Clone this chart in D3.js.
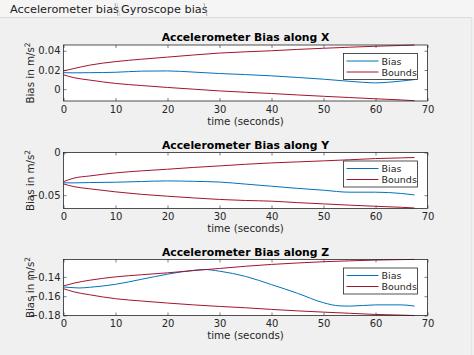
<!DOCTYPE html>
<html><head><meta charset="utf-8">
<script src="https://cdn.jsdelivr.net/npm/d3@7"></script>
<style>
html,body{margin:0;padding:0;background:#f0f0f0;}
svg{display:block;font-family:"DejaVu Sans",sans-serif;}
</style></head>
<body><svg id="c" width="474" height="355"></svg>
<script>
const tabs = ["Accelerometer bias", "Gyroscope bias"];
const titles = ["Accelerometer Bias along X", "Accelerometer Bias along Y", "Accelerometer Bias along Z"];
const xTicks = [0, 10, 20, 30, 40, 50, 60, 70];
const time = [0, 2, 5, 10, 15, 20, 25, 30, 35, 40, 45, 50, 55, 60, 65, 67.5];
const timeZ = [0, 2, 3, 5, 10, 15, 20, 25, 27, 30, 35, 40, 45, 50, 53, 55, 60, 65, 67.5];

const biasX  = [0.0172,0.0170,0.0172,0.0176,0.0188,0.0190,0.0178,0.0163,0.0152,0.0139,0.0122,0.0104,0.0082,0.0066,0.0085,0.0100];
const upperX = [0.019,0.0215,0.025,0.0287,0.0312,0.0334,0.0356,0.0376,0.0389,0.0400,0.0414,0.0426,0.0437,0.0447,0.0455,0.0460];
const lowerX = [0.015,0.012,0.0095,0.006,0.0038,0.0018,0.0,-0.0018,-0.0032,-0.0045,-0.006,-0.0074,-0.0087,-0.010,-0.0112,-0.012];

const biasY  = [-0.0355,-0.0356,-0.0352,-0.0348,-0.034,-0.0333,-0.0338,-0.0346,-0.037,-0.0395,-0.042,-0.0442,-0.0465,-0.0465,-0.048,-0.0497];
const upperY = [-0.0342,-0.030,-0.0275,-0.0239,-0.0215,-0.0196,-0.0175,-0.0157,-0.0138,-0.0122,-0.011,-0.0098,-0.0085,-0.0071,-0.0063,-0.0059];
const lowerY = [-0.0368,-0.040,-0.0425,-0.0461,-0.049,-0.0512,-0.0532,-0.055,-0.0562,-0.057,-0.0587,-0.0602,-0.0617,-0.063,-0.0642,-0.065];

const biasZ  = [-0.1505,-0.1512,-0.1515,-0.1508,-0.1477,-0.1425,-0.1372,-0.1332,-0.1323,-0.1341,-0.1395,-0.148,-0.157,-0.1668,-0.170,-0.1703,-0.169,-0.169,-0.1703];
const upperZ = [-0.1494,-0.1465,-0.1435,-0.140,-0.1378,-0.1358,-0.1335,-0.1313,-0.129,-0.1271,-0.1256,-0.1243,-0.1234,-0.1226,-0.1221,-0.1219];
const lowerZ = [-0.1522,-0.1555,-0.1585,-0.1626,-0.165,-0.1671,-0.169,-0.1706,-0.172,-0.1737,-0.1752,-0.1765,-0.1777,-0.1789,-0.1796,-0.180];

const yDomains = [[-0.0123, 0.046], [-0.0656, 0], [-0.18, -0.122]];
const yTicks = [[0, 0.02, 0.04], [-0.05, 0], [-0.18, -0.16, -0.14]];
const yFormats = [d => d === 0 ? "0" : d3.format(".2f")(d), d => d === 0 ? "0" : d3.format(".2f")(d), d3.format(".2f")];
const legendLabels = ["Bias", "Bounds"];

const panels = [
  {bias: biasX, bt: time, upper: upperX, lower: lowerX},
  {bias: biasY, bt: time, upper: upperY, lower: lowerY},
  {bias: biasZ, bt: timeZ, upper: upperZ, lower: lowerZ}
];
const tops = [45, 152.5, 259.5];
const H = 56;
const L = 63.5, R = 427.5;
const BLUE = "#0072BD", RED = "#A2142F";

const svg = d3.select("#c");
// tab strip
svg.append("rect").attr("x",0).attr("y",0).attr("width",474).attr("height",18).attr("fill","#f5f5f5");
svg.append("line").attr("x1",0).attr("x2",472).attr("y1",17.5).attr("y2",17.5).attr("stroke","#dcdcdc");
svg.append("line").attr("x1",471.5).attr("x2",471.5).attr("y1",17.5).attr("y2",355).attr("stroke","#e4e4e4");
const tabX = [10, 121];
const tabEnd = [115, 204];
tabs.forEach((t,i)=>{
  svg.append("text").attr("x",tabX[i]).attr("y",13).attr("font-size",11.3).attr("fill","#222").text(t);
  svg.append("line").attr("x1",tabEnd[i]).attr("y1",3).attr("x2",tabEnd[i]+3).attr("y2",16).attr("stroke","#999").attr("stroke-width",0.8);
});
svg.append("line").attr("x1",117).attr("y1",3).attr("x2",120).attr("y2",16).attr("stroke","#bbb").attr("stroke-width",0.6);

const x = d3.scaleLinear().domain([0,70]).range([L,R]);

panels.forEach((p,i)=>{
  const top = tops[i];
  const y = d3.scaleLinear().domain(yDomains[i]).range([top+H, top]);
  const g = svg.append("g");
  g.append("rect").attr("x",L).attr("y",top).attr("width",R-L).attr("height",H).attr("fill","#fff");
  const clipId = "clip"+i;
  g.append("clipPath").attr("id",clipId).append("rect").attr("x",L).attr("y",top-1).attr("width",R-L).attr("height",H+2);
  const line = (xs, ys) => d3.line().x((d,k)=>x(xs[k])).y(d=>y(d)).curve(d3.curveMonotoneX)(ys);
  const lg = g.append("g").attr("clip-path",`url(#${clipId})`);
  lg.append("path").attr("d",line(p.bt,p.bias)).attr("fill","none").attr("stroke",BLUE).attr("stroke-width",1);
  lg.append("path").attr("d",line(time,p.upper)).attr("fill","none").attr("stroke",RED).attr("stroke-width",1);
  lg.append("path").attr("d",line(time,p.lower)).attr("fill","none").attr("stroke",RED).attr("stroke-width",1);

  // axes
  const xb = d3.axisBottom(x).tickValues(xTicks).tickSize(-3).tickPadding(4.5).tickFormat(d3.format("d"));
  const xt = d3.axisTop(x).tickValues(xTicks).tickSize(-3).tickFormat("");
  const yl = d3.axisLeft(y).tickValues(yTicks[i]).tickSize(-3).tickPadding(3).tickFormat(yFormats[i]);
  const yr = d3.axisRight(y).tickValues(yTicks[i]).tickSize(-3).tickFormat("");
  const ax = [
    g.append("g").attr("transform",`translate(0,${top+H})`).call(xb),
    g.append("g").attr("transform",`translate(0,${top})`).call(xt),
    g.append("g").attr("transform",`translate(${L},0)`).call(yl),
    g.append("g").attr("transform",`translate(${R},0)`).call(yr)
  ];
  ax.forEach(a=>{
    a.select(".domain").remove();
    a.selectAll("line").attr("stroke","#262626").attr("stroke-width",0.6);
    a.selectAll("text").attr("fill","#262626").attr("font-size",10).attr("font-family","DejaVu Sans");
  });
  g.append("rect").attr("x",L).attr("y",top).attr("width",R-L).attr("height",H).attr("fill","none").attr("stroke","#262626").attr("stroke-width",0.8);

  g.append("text").attr("x",(L+R)/2).attr("y",top-4).attr("text-anchor","middle").attr("font-size",10.8).attr("font-weight","bold").attr("fill","#000").text(titles[i]);
  g.append("text").attr("x",(L+R)/2).attr("y",top+H+23.5).attr("text-anchor","middle").attr("font-size",10.3).attr("fill","#262626").text("time (seconds)");
  const yt = g.append("text").attr("transform",`translate(33.5,${top+H/2}) rotate(-90)`).attr("text-anchor","middle").attr("font-size",10.3).attr("fill","#262626");
  yt.append("tspan").text("Bias in m/s");
  yt.append("tspan").attr("dy",-4).attr("font-size",7.5).text("2");

  // legend
  const lx = 343.5, ly = top + 8.5, lw = 74, lh = 26;
  const leg = g.append("g");
  leg.append("rect").attr("x",lx).attr("y",ly).attr("width",lw).attr("height",lh).attr("fill","#fff").attr("stroke","#262626").attr("stroke-width",0.8);
  [BLUE, RED].forEach((c,k)=>{
    const yy = ly + 7.5 + k*11;
    leg.append("line").attr("x1",lx+3).attr("x2",lx+35).attr("y1",yy).attr("y2",yy).attr("stroke",c).attr("stroke-width",1);
    leg.append("text").attr("x",lx+38).attr("y",yy+3.5).attr("font-size",9.5).attr("fill","#262626").text(legendLabels[k]);
  });
});
</script></body></html>
